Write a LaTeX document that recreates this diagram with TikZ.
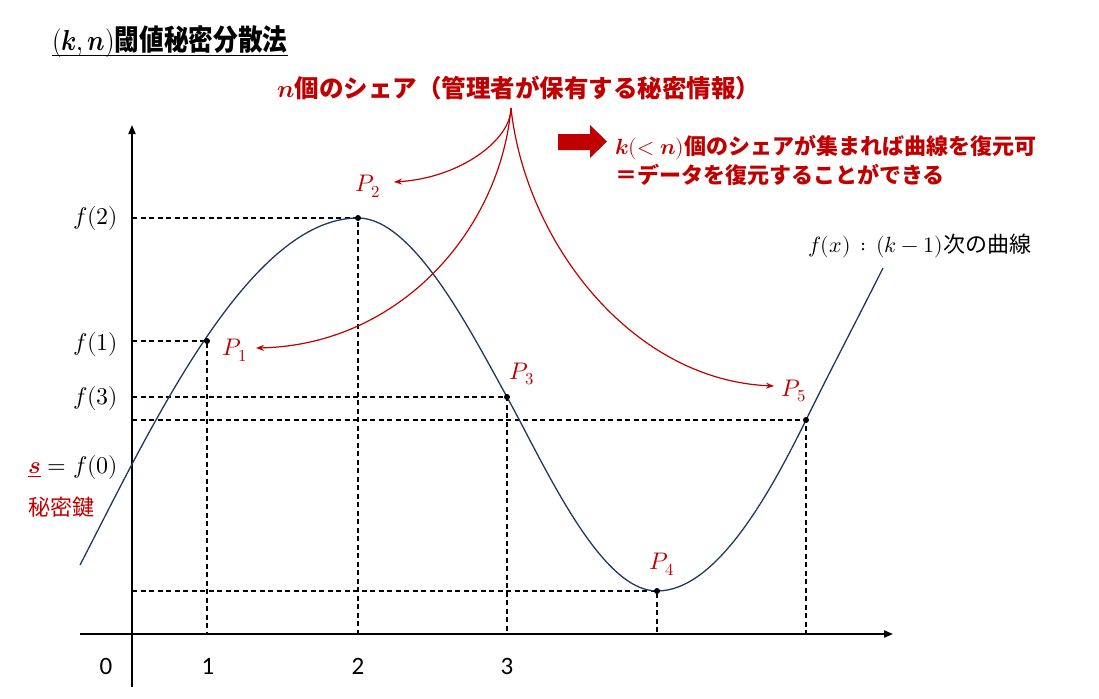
\documentclass[tikz,border=0pt]{standalone}
\usepackage{fontspec}
\usepackage{unicode-math}
\setmathfont{Latin Modern Math}
\usetikzlibrary{arrows.meta}
\newfontfamily\cjk{Noto Sans CJK JP}
\newfontfamily\calib{Carlito}
\definecolor{darkred}{RGB}{192,0,0}
\definecolor{curveblue}{RGB}{31,56,100}
\begin{document}
\begin{tikzpicture}[x=1pt,y=-1pt,
  axis/.style={line width=1.8pt,-{Triangle[length=9pt,width=7pt]}},
  dashline/.style={line width=1.1pt,dash pattern=on 5pt off 3.5pt},
  curvestyle/.style={line width=1.3pt,draw=curveblue},
  redarrow/.style={draw=darkred,line width=1.2pt,-{Stealth[length=8pt,width=6pt]}},
  dot/.style={circle,fill=black,inner sep=0pt,minimum size=6pt},
  plabel/.style={text=darkred,font=\fontsize{24}{28}\selectfont,inner sep=1pt},
  ylabel/.style={anchor=east,font=\fontsize{24}{28}\selectfont,inner sep=1pt},
  xlabel/.style={font=\calib\fontsize{25}{28}\selectfont,inner sep=1pt},
  redtext/.style={text=darkred,font=\cjk\bfseries\fontsize{22}{26}\selectfont,anchor=west,inner sep=0pt}]
\useasboundingbox (0,0) rectangle (1099,698);
% coordinates
\coordinate (o) at (132,634);
\coordinate (xs) at (80,634);
\coordinate (xe) at (893,634);
\coordinate (ys) at (132,687);
\coordinate (ye) at (132,125);
\coordinate (p0) at (132,465);
\coordinate (p1) at (207,341);
\coordinate (p2) at (358,218);
\coordinate (p3) at (507,397);
\coordinate (p4) at (657,591);
\coordinate (p5) at (806,420);
\coordinate (cs) at (80,565);
\coordinate (ce) at (883,268);
\coordinate (cusp) at (511,108);
\coordinate (a1) at (256,348);
\coordinate (a2) at (394,182);
\coordinate (a5) at (774,386);
% dashed guides
\foreach \p in {p1,p2,p3,p4,p5}{
  \draw[dashline] (o |- \p) -- (\p) -- (\p |- o);
}
% axes
\draw[axis] (xs) -- (xe);
\draw[axis] (ys) -- (ye);
% curve
\draw[curvestyle] (cs) .. controls (150,430) and (248,218) .. (p2)
  .. controls (413,218) and (470,330) .. (p3)
  .. controls (545,466) and (600,591) .. (p4)
  .. controls (717,591) and (771,491) .. (p5)
  .. controls (830,371) and (860,314) .. (ce);
% dots
\foreach \p in {p1,p2,p3,p4,p5}{
  \node[dot] (d\p) at (\p) {};
}
% red arrows
\draw[redarrow] (cusp) .. controls (511,140) and (460,178) .. (a2);
\draw[redarrow] (cusp) .. controls (500,230) and (400,345) .. (a1);
\draw[redarrow] (cusp) .. controls (525,240) and (630,380) .. (a5);
% point labels
\node[plabel] (lp1) at (235,350) {$P_1$};
\node[plabel] (lp2) at (368,186) {$P_2$};
\node[plabel] (lp3) at (522,374) {$P_3$};
\node[plabel] (lp4) at (662,564) {$P_4$};
\node[plabel] (lp5) at (794,391) {$P_5$};
% y labels
\node[ylabel] (lf2) at (119,218) {$f(2)$};
\node[ylabel] (lf1) at (119,344) {$f(1)$};
\node[ylabel] (lf3) at (119,398) {$f(3)$};
\node[ylabel] (lf0) at (119,467) {$\textcolor{darkred}{\underline{\symbfit{s}}}=f(0)$};
\node[text=darkred,font=\cjk\fontsize{22}{26}\selectfont,inner sep=0pt] (key) at (61,507) {秘密鍵};
% x labels
\node[xlabel] (x0) at (106,666) {0};
\node[xlabel] (x1) at (208,666) {1};
\node[xlabel] (x2) at (358,666) {2};
\node[xlabel] (x3) at (507,666) {3};
% title
\node[anchor=west,inner sep=0pt,font=\fontsize{29}{34}\selectfont] (title) at (52,42)
  {\scalebox{0.85}[1]{$(\symbfit{k},\symbfit{n})${\cjk\bfseries 閾値秘密分散法}}};
\draw[line width=1.3pt] ([yshift=-5pt]title.base west) -- ([yshift=-5pt]title.base east);
% top red text
\node[redtext,font=\cjk\bfseries\fontsize{24.5}{28}\selectfont] (shares) at (277,88) {$\symbfit{n}$個のシェア（管理者が保有する秘密情報）};
% block arrow
\fill[darkred] (558,134) -- (590,134) -- (590,125) -- (607,141.5) -- (590,158) -- (590,150) -- (558,150) -- cycle;
\node[redtext] (rt1) at (615,148) {$\symbfit{k}(<\symbfit{n})$個のシェアが集まれば曲線を復元可};
\node[redtext] (rt2) at (615,175) {＝データを復元することができる};
% curve label
\node[anchor=west,inner sep=0pt,font=\fontsize{22}{26}\selectfont] (fx) at (808,246) {$f(x)\,:\,(k-1)${\cjk 次の曲線}};
\end{tikzpicture}
\end{document}
